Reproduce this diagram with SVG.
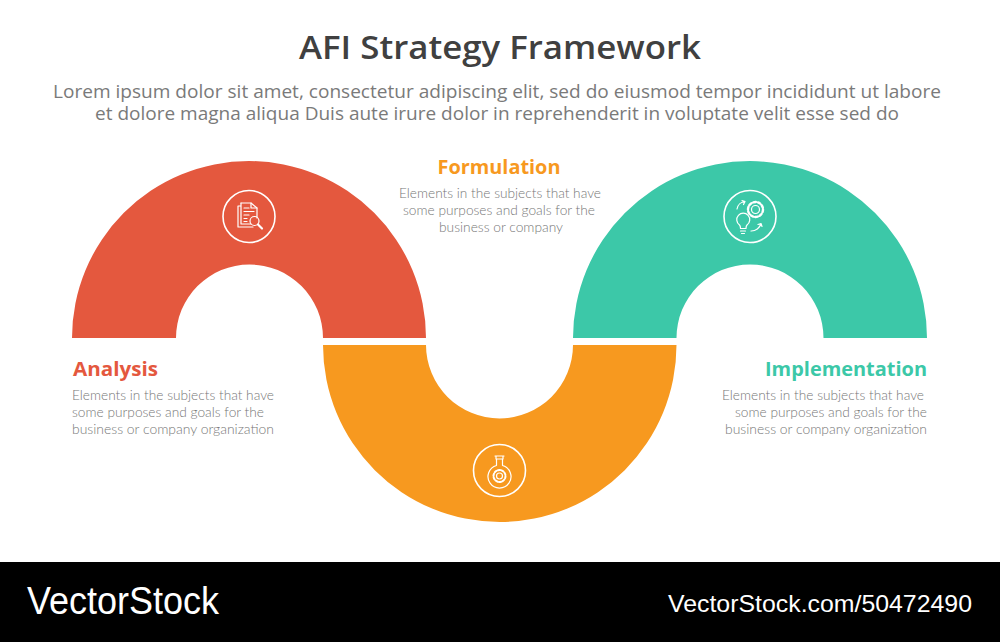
<svg xmlns="http://www.w3.org/2000/svg" width="1000" height="642" viewBox="0 0 1000 642">
<style>
.title{font:600 32px "Open Sans","Liberation Sans",sans-serif;fill:#404040;text-anchor:middle}
.sub{font:400 18px "Open Sans","Liberation Sans",sans-serif;fill:#7a7a7a;text-anchor:middle}
.head{font:700 19px "Open Sans","Liberation Sans",sans-serif}
.body{font:300 13.6px Lato,"Liberation Sans",sans-serif;fill:#777}
.ring{fill:none;stroke:#fff;stroke-width:1.6}
.ic{fill:none;stroke:#fff;stroke-width:1.2;stroke-linecap:round;stroke-linejoin:round}
.wm{font-family:"Liberation Sans",Arial,sans-serif;fill:#fff}
</style>
<rect width="1000" height="642" fill="#fff"/>
<g id="header">
<text class="title" x="500" y="59" textLength="402" lengthAdjust="spacingAndGlyphs">AFI Strategy Framework</text>
<text class="sub" x="497" y="98" textLength="888" lengthAdjust="spacingAndGlyphs">Lorem ipsum dolor sit amet, consectetur adipiscing elit, sed do eiusmod tempor incididunt ut labore</text>
<text class="sub" x="497" y="120" textLength="804" lengthAdjust="spacingAndGlyphs">et dolore magna aliqua Duis aute irure dolor in reprehenderit in voluptate velit esse sed do</text>
</g>
<g id="analysis">
<path d="M72 338A177 177 0 0 1 426 338H323A73.500 73.500 0 0 0 176 338Z" fill="#e4583e"/>
<circle class="ring" cx="249" cy="216.500" r="26"/>
<g class="ic">
<path d="M241 203h10l6 5v10" />
<path d="M251 203v5h6"/>
<path d="M238 206h3M238 206v21h15M241 203v21h10"/>
<path d="M244 208h5M244 211.500h10M244 215h5M244 218.500h3M244 221.500h3"/>
<circle cx="254.500" cy="221" r="4.500"/>
<path d="M258 224.500l4 4" stroke-width="2.200"/>
</g>
<text class="head" x="73" y="376" fill="#e4583e" textLength="85" lengthAdjust="spacingAndGlyphs">Analysis</text>
<text class="body" x="72" y="400" textLength="202" lengthAdjust="spacingAndGlyphs">Elements in the subjects that have</text>
<text class="body" x="72" y="417" textLength="192" lengthAdjust="spacingAndGlyphs">some purposes and goals for the</text>
<text class="body" x="72" y="434" textLength="202" lengthAdjust="spacingAndGlyphs">business or company organization</text>
</g>
<g id="formulation">
<path d="M323 345H426A73.500 73.500 0 0 0 573 345H676.500A176.750 177 0 0 1 323 345Z" fill="#f7991f"/>
<circle class="ring" cx="499.500" cy="470.500" r="26"/>
<g class="ic">
<path d="M495 456h9M496 456v3h7v-3M496.500 459v6.500a11.500 11.500 0 1 0 6 0v-6.500"/>
<circle cx="499.500" cy="476" r="3"/>
<circle cx="499.500" cy="476" r="6" stroke-dasharray="2.200 1.500" stroke-width="2"/>
</g>
<text class="head" x="499" y="174" fill="#f7991f" text-anchor="middle" textLength="123" lengthAdjust="spacingAndGlyphs">Formulation</text>
<text class="body" x="500" y="198" text-anchor="middle" textLength="202" lengthAdjust="spacingAndGlyphs">Elements in the subjects that have</text>
<text class="body" x="499" y="215" text-anchor="middle" textLength="192" lengthAdjust="spacingAndGlyphs">some purposes and goals for the</text>
<text class="body" x="501" y="232" text-anchor="middle" textLength="124" lengthAdjust="spacingAndGlyphs">business or company</text>
</g>
<g id="implementation">
<path d="M573 338A177 177 0 0 1 927 338H823.500A73.500 73.500 0 0 0 676.500 338Z" fill="#3cc8a8"/>
<circle class="ring" cx="750" cy="216.500" r="26"/>
<g class="ic">
<circle cx="755.500" cy="209.500" r="4"/>
<circle cx="755.500" cy="209.500" r="7.500" stroke-width="2.400" stroke-dasharray="2.600 2.100"/>
<path d="M739.500 225a6.500 6.500 0 1 1 7.500 0c-1 1-1 2-1 3.500h-5.500c0-1.500 0-2.500-1-3.500zM740.500 231h5M741.500 233.500h3"/>
<path d="M737 209a9 9 0 0 1 8-7.500M745 201.500l-3-1M745 201.500l-1.500 3"/>
<path d="M751 231a10 10 0 0 0 10-7.500M761 223.500l-3 1M761 223.500l1 3"/>
</g>
<text class="head" x="927" y="376" fill="#3cc8a8" text-anchor="end" textLength="162" lengthAdjust="spacingAndGlyphs">Implementation</text>
<text class="body" x="924" y="400" text-anchor="end" textLength="202" lengthAdjust="spacingAndGlyphs">Elements in the subjects that have</text>
<text class="body" x="927" y="417" text-anchor="end" textLength="192" lengthAdjust="spacingAndGlyphs">some purposes and goals for the</text>
<text class="body" x="927" y="434" text-anchor="end" textLength="202" lengthAdjust="spacingAndGlyphs">business or company organization</text>
</g>
<g id="connectors"/>
<g id="footer">
<rect x="0" y="562" width="1000" height="80" fill="#000"/>
<text class="wm" x="27" y="614" font-size="38" textLength="192" lengthAdjust="spacingAndGlyphs">VectorStock</text>
<text class="wm" x="668" y="612" font-size="24" textLength="304" lengthAdjust="spacingAndGlyphs">VectorStock.com/50472490</text>
</g>
</svg>
